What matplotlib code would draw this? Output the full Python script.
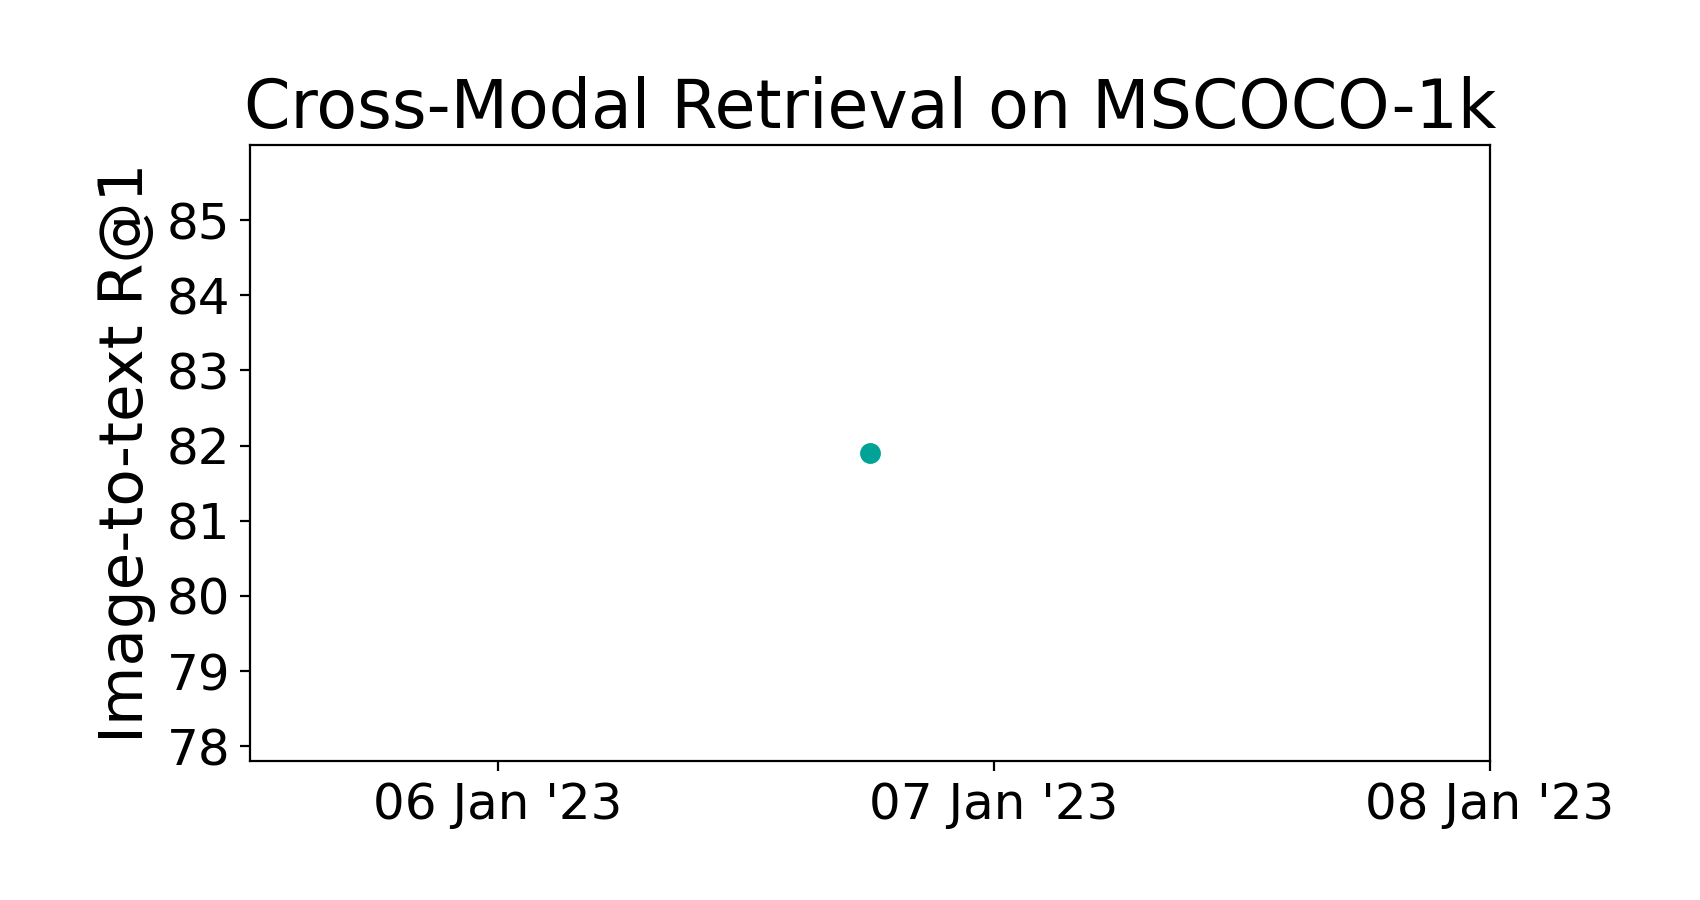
import numpy as np
import pandas as pd
import matplotlib
matplotlib.use('Agg')
import matplotlib.pyplot as plt
import matplotlib.dates as mdates

# Dados
datas = pd.to_datetime(['2023-01-06 18:00'])
valores = [81.9]
ticks_x = pd.to_datetime(['2023-01-06', '2023-01-07', '2023-01-08'])
ticks_y = [78, 79, 80, 81, 82, 83, 84, 85]

fig, ax = plt.subplots(figsize=(8.5, 4.5), dpi=200)
fig.subplots_adjust(left=0.147, right=0.8765, bottom=0.154, top=0.839)

ax.plot(datas, valores, 'o', color='#00a396', markersize=6.5)

ax.set_xlim(pd.Timestamp('2023-01-05 12:00'), pd.Timestamp('2023-01-08 00:00'))
ax.set_ylim(77.8, 86.0)
ax.set_xticks(ticks_x)
ax.set_yticks(ticks_y)
ax.xaxis.set_major_formatter(mdates.DateFormatter("%d %b '%y"))
ax.tick_params(labelsize=18)

ax.set_title('Cross-Modal Retrieval on MSCOCO-1k', fontsize=24)
ax.set_ylabel('Image-to-text R@1', fontsize=22)

fig.savefig('out.png', dpi=200)
